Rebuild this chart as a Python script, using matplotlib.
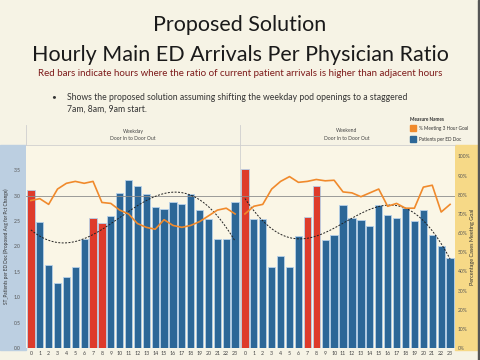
import numpy as np
import matplotlib
matplotlib.use("Agg")
import matplotlib.pyplot as plt
from matplotlib.patches import Rectangle

plt.rcParams['font.family'] = ['Lato', 'DejaVu Sans']

hours = list(range(24))
hour_labels = [str(h) for h in hours]

# Patients per ED doc (left axis)
weekday_ratio = [3.12, 2.49, 1.64, 1.29, 1.39, 1.60, 2.15, 2.56, 2.47, 2.60, 3.06, 3.32,
                 3.19, 3.04, 2.78, 2.74, 2.87, 2.84, 3.03, 2.72, 2.55, 2.15, 2.15, 2.88]
weekend_ratio = [3.53, 2.55, 2.55, 1.60, 1.81, 1.60, 2.21, 2.58, 3.19, 2.13, 2.22, 2.82,
                 2.57, 2.53, 2.41, 2.82, 2.63, 2.56, 2.76, 2.51, 2.72, 2.22, 2.01, 1.77]

# % meeting 3 hour goal (right axis)
weekday_goal = [0.77, 0.78, 0.75, 0.83, 0.86, 0.87, 0.86, 0.87, 0.76, 0.755, 0.72, 0.70,
                0.65, 0.63, 0.62, 0.67, 0.64, 0.63, 0.64, 0.66, 0.69, 0.72, 0.73, 0.70]
weekend_goal = [0.70, 0.74, 0.75, 0.83, 0.87, 0.895, 0.865, 0.87, 0.88, 0.873, 0.876, 0.815,
                0.81, 0.79, 0.81, 0.83, 0.74, 0.755, 0.73, 0.73, 0.84, 0.85, 0.71, 0.75]

# trend line at these hours
trend_hours = [0, 2, 4, 6, 8, 10, 12, 14, 16, 18, 20, 22, 23]
weekday_trend = [2.32, 2.14, 2.07, 2.14, 2.32, 2.59, 2.82, 2.98, 3.06, 3.01, 2.78, 2.40, 2.09]
weekend_trend = [2.94, 2.52, 2.24, 2.14, 2.19, 2.38, 2.57, 2.73, 2.80, 2.75, 2.52, 2.06, 1.75]

# hours flagged red
weekday_red = [0, 7, 8]
weekend_red = [0, 7, 8]

BLUE = '#2c6797'
RED = '#de3b2b'
ORANGE = '#f08a2c'
BG = '#f6f3e5'
PLOT_BG = '#faf6e6'

fig = plt.figure(figsize=(4.8, 3.6), dpi=100)
fig.patch.set_facecolor(BG)

W, H = 480.0, 360.0
def fx(px):
    return px / W
def fy(py):
    return 1 - py / H

# axis bands (behind the axes)
fig.patches.append(Rectangle((0, fy(350)), fx(26), fy(145) - fy(350),
                             transform=fig.transFigure, color='#bccfe1', zorder=-2))
fig.patches.append(Rectangle((fx(455), fy(350)), fx(478) - fx(455), fy(145) - fy(350),
                             transform=fig.transFigure, color='#f6d987', zorder=-2))
fig.patches.append(Rectangle((fx(478), 0), fx(2), 1,
                             transform=fig.transFigure, color='#555555', zorder=-2))

# titles
fig.text(0.5, fy(25), 'Proposed Solution', ha='center', va='center', fontsize=15.5, color='#1a1a1a')
fig.text(0.5, fy(55), 'Hourly Main ED Arrivals Per Physician Ratio', ha='center', va='center',
         fontsize=15.5, color='#1a1a1a')
fig.text(0.5, fy(74), 'Red bars indicate hours where the ratio of current patient arrivals is higher than adjacent hours',
         ha='center', va='center', fontsize=7.0, color='#7d1a1a')
fig.text(fx(54), fy(97), '\u2022', ha='center', va='center', fontsize=6, color='#333333')
fig.text(fx(67), fy(97), 'Shows the proposed solution assuming shifting the weekday pod openings to a staggered',
         ha='left', va='center', fontsize=6.2, color='#333333')
fig.text(fx(67), fy(109), '7am, 8am, 9am start.', ha='left', va='center', fontsize=6.2, color='#333333')

# legend
fig.text(fx(410), fy(120), 'Measure Names', ha='left', va='center', fontsize=3.4, color='#333333',
         fontweight='bold')
fig.patches.append(Rectangle((fx(410), fy(131)), fx(6), fy(125) - fy(131),
                             transform=fig.transFigure, color=ORANGE))
fig.text(fx(419), fy(128), '% Meeting 3 Hour Goal', ha='left', va='center', fontsize=3.4, color='#333333')
fig.patches.append(Rectangle((fx(410), fy(142)), fx(6), fy(136) - fy(142),
                             transform=fig.transFigure, color=BLUE))
fig.text(fx(419), fy(139), 'Patients per ED Doc', ha='left', va='center', fontsize=3.4, color='#333333')

# header
for px in (26, 240):
    fig.add_artist(plt.Line2D([fx(px), fx(px)], [fy(125), fy(145)], transform=fig.transFigure,
                              color='#cfcfcf', lw=0.6))
fig.add_artist(plt.Line2D([fx(26), fx(455)], [fy(145), fy(145)], transform=fig.transFigure,
                          color='#cfcfcf', lw=0.6))
for cx, name in ((133, 'Weekday'), (347, 'Weekend')):
    fig.text(fx(cx), fy(131), name, ha='center', va='center', fontsize=3.6, color='#444444')
    fig.text(fx(cx), fy(139), 'Door In to Door Out', ha='center', va='center', fontsize=3.6, color='#444444')

panels = [
    (26, 240, weekday_ratio, weekday_goal, weekday_red, weekday_trend),
    (240, 455, weekend_ratio, weekend_goal, weekend_red, weekend_trend),
]

x = np.arange(24)
for i, (x0, x1, ratio, goal, red, trend) in enumerate(panels):
    ax = fig.add_axes([fx(x0), fy(348), fx(x1) - fx(x0), fy(145) - fy(348)])
    ax.set_facecolor(PLOT_BG)
    colors = [RED if h in red else BLUE for h in hours]
    ax.bar(x, ratio, width=0.82, color=colors, edgecolor='#b7d0e8', linewidth=0.6, zorder=2)
    ax.set_xlim(-0.55, 23.55)
    ax.set_ylim(0, 4.0)
    ax.axhline(3.0, color='#8c8c8c', lw=0.6, zorder=3)

    # smooth the read trend points
    coef = np.polyfit(trend_hours, trend, 5)
    xs = np.linspace(0, 23, 200)
    ax.plot(xs, np.polyval(coef, xs), color='#222222', lw=0.7, ls=(0, (2, 1.5)), zorder=4)

    ax.set_xticks(x)
    ax.set_xticklabels(hour_labels, fontsize=3.8, color='#444444')
    ax.tick_params(axis='x', length=0, pad=2)
    for s in ax.spines.values():
        s.set_visible(False)
    if i == 0:
        ax.set_yticks(np.arange(0, 4.0, 0.5))
        ax.set_yticklabels(['%.1f' % v for v in np.arange(0, 4.0, 0.5)], fontsize=3.6, color='#555555')
        ax.tick_params(axis='y', length=0, pad=4)
        ax.set_ylabel('ST_Patients per ED Doc (Proposed Avg for Pct Change)', fontsize=3.4,
                      color='#333333', labelpad=3)
    else:
        ax.set_yticks([])
        ax.axvline(-0.55, color='#d0d0d0', lw=0.6, zorder=1)

    ax2 = ax.twinx()
    ax2.plot(x, goal, color=ORANGE, lw=1.2, zorder=5)
    ax2.set_ylim(0, 1.06)
    for s in ax2.spines.values():
        s.set_visible(False)
    if i == 1:
        ticks = np.arange(0, 1.01, 0.1)
        ax2.set_yticks(ticks)
        ax2.set_yticklabels(['%d%%' % round(t * 100) for t in ticks], fontsize=3.6, color='#555555')
        ax2.tick_params(axis='y', length=0, pad=2)
        ax2.set_ylabel('Percentage Cases Meeting Goal', fontsize=4.0, color='#333333', labelpad=0)
    else:
        ax2.set_yticks([])

fig.savefig('out.png', dpi=100, facecolor=fig.get_facecolor())
